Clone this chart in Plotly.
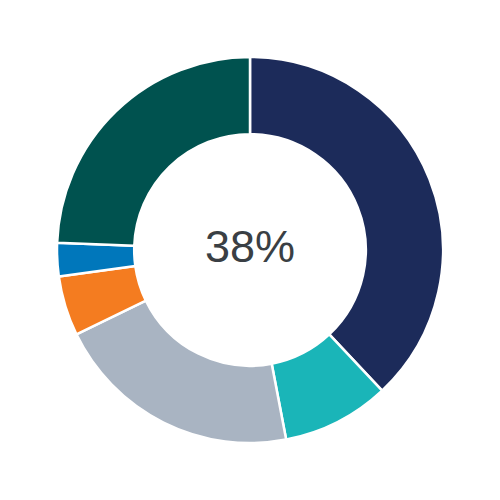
import plotly.graph_objects as go

labels = ["A", "B", "C", "D", "E", "F"]
values = [38, 9, 20.8, 5, 2.8, 24.4]
colors = ["#1c2b5a", "#1ab5b8", "#a9b4c2", "#f47c20", "#0077bb", "#00524f"]
center_text = "38%"

fig = go.Figure(go.Pie(
    labels=labels,
    values=values,
    hole=0.6,
    sort=False,
    direction="clockwise",
    rotation=0,
    marker=dict(colors=colors, line=dict(color="white", width=2.5)),
    textinfo="none",
    hoverinfo="label+percent",
))

fig.update_layout(
    width=500, height=500,
    margin=dict(l=49, r=65, t=49, b=65),
    showlegend=False,
    paper_bgcolor="white",
    annotations=[dict(text=center_text, x=0.5, y=0.5, xref="paper", yref="paper", yshift=4,
                      showarrow=False, font=dict(size=45, color="#3a3f44", family="Liberation Sans, Arial"))],
)

fig.write_html("out.html")
